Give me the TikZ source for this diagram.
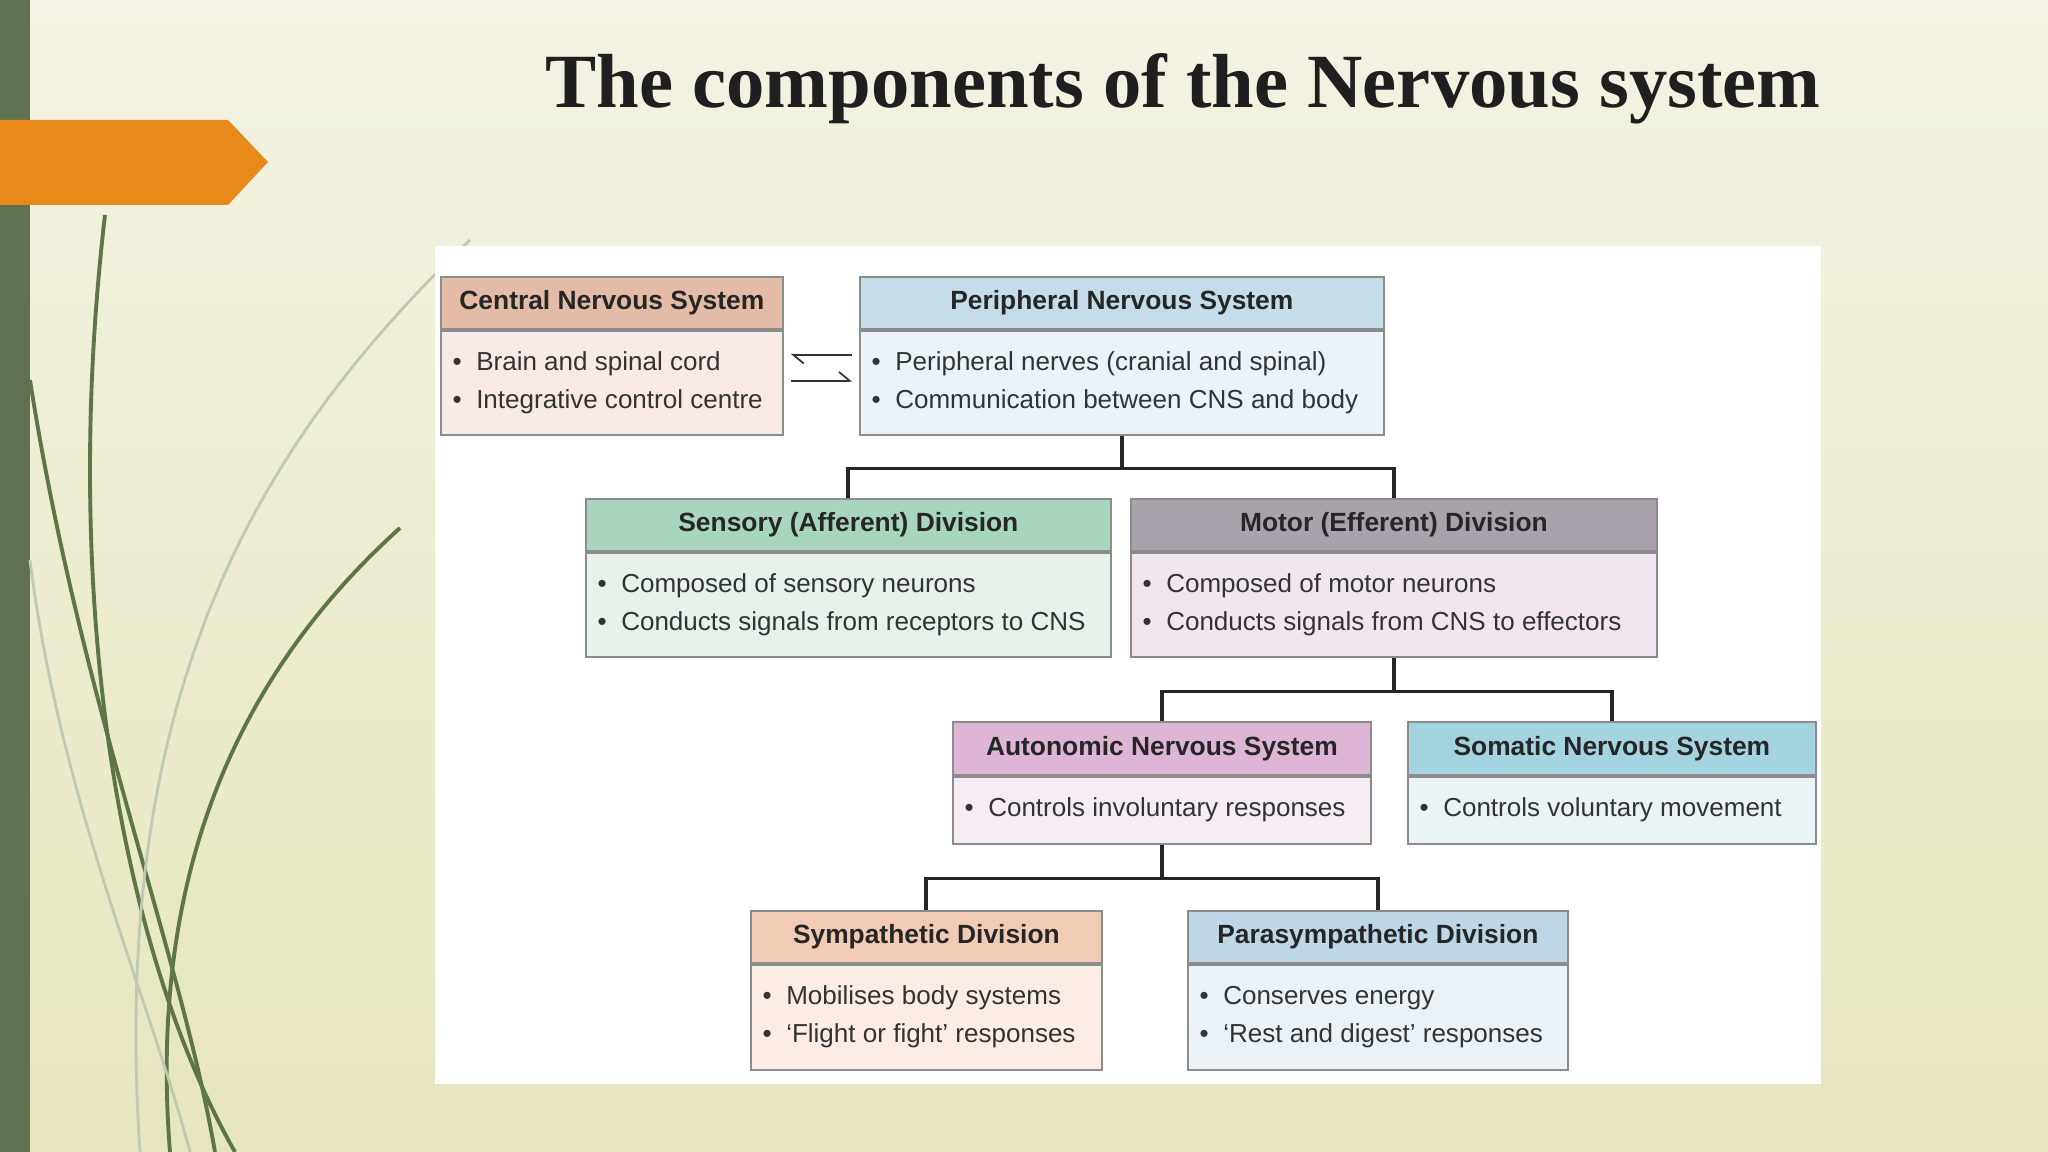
\documentclass[tikz,border=0pt]{standalone}
\usepackage{fontspec}
\setmainfont{Liberation Sans}
\newfontfamily\titlefont{Liberation Serif}
\usetikzlibrary{calc,arrows.meta}
\definecolor{bg}{HTML}{F1F0DE}
\definecolor{strip}{HTML}{5F7150}
\definecolor{orng}{HTML}{E88A1A}
\definecolor{leaf}{HTML}{5E7545}
\definecolor{cnsH}{HTML}{E4BBA6}\definecolor{cnsB}{HTML}{F8EAE4}
\definecolor{pnsH}{HTML}{C5DDE8}\definecolor{pnsB}{HTML}{EAF3F9}
\definecolor{senH}{HTML}{A8D5BE}\definecolor{senB}{HTML}{E6F2EA}
\definecolor{motH}{HTML}{A9A2AC}\definecolor{motB}{HTML}{F1E6F0}
\definecolor{autH}{HTML}{DDB6D6}\definecolor{autB}{HTML}{F6ECF4}
\definecolor{somH}{HTML}{A4D4E0}\definecolor{somB}{HTML}{EAF4F7}
\definecolor{symH}{HTML}{F2CBB6}\definecolor{symB}{HTML}{FBEDE6}
\definecolor{parH}{HTML}{BDD7E6}\definecolor{parB}{HTML}{EAF2F8}
\tikzset{
 hdr/.style={draw=black!45,line width=0.5pt,inner sep=0pt,font=\fontsize{7.5}{10}\selectfont\bfseries,text=black!85},
 bdy/.style={draw=black!45,line width=0.5pt,inner sep=0pt},
 btxt/.style={inner sep=0pt,font=\fontsize{7.4}{10.8}\selectfont,text=black!80,align=left,anchor=west},
 link/.style={line width=1.1pt,black!85},
 harp/.style={line width=0.5pt,black!80},
 deco/.style={leaf,line width=1.1pt}
}
\newcommand\cbox[9]{%
 \node[hdr,fill=#6,minimum width=#3*0.01cm,minimum height=#4*0.01cm,anchor=north west] (#1h) at #2 {#8};
 \node[bdy,fill=#7,minimum width=#3*0.01cm,minimum height=#5*0.01cm,anchor=north west] (#1) at (#1h.south west) {};
 \node[btxt] (#1t) at ($(#1.west)+(12,0)$) {#9};}
\begin{document}
\begin{tikzpicture}[x=0.01cm,y=-0.01cm]
\useasboundingbox (0,0) rectangle (2048,1152);
\shade[top color=bg!80!white,bottom color=bg!90!yellow!95!black] (0,0) rectangle (2048,1152);
\fill[strip] (0,0) rectangle (30,1152);
\fill[orng] (0,120) -- (228,120) -- (268,162) -- (228,205) -- (0,205) -- cycle;
% decorative curves
\draw[deco] (105,215) .. controls (60,600) and (120,950) .. (235,1152);
\draw[deco] (400,528) .. controls (220,690) and (150,900) .. (170,1152);
\draw[deco] (30,380) .. controls (80,700) and (180,950) .. (215,1152);
\draw[leaf!40,line width=0.8pt] (470,240) .. controls (250,450) and (110,700) .. (140,1152);
\draw[leaf!40,line width=0.8pt] (30,560) .. controls (60,800) and (150,1000) .. (190,1152);
\node[font=\titlefont\fontsize{21.8}{26}\selectfont\bfseries,text=black!88] (title) at (1183,89) {The components of the Nervous system};
\fill[white] (435,246) rectangle (1821,1084);
\cbox{cns}{(440,276)}{342}{52}{104}{cnsH}{cnsB}{Central Nervous System}{\textbullet\ \ Brain and spinal cord\\\textbullet\ \ Integrative control centre}
\cbox{pns}{(859,276)}{524}{52}{104}{pnsH}{pnsB}{Peripheral Nervous System}{\textbullet\ \ Peripheral nerves (cranial and spinal)\\\textbullet\ \ Communication between CNS and body}
\cbox{sen}{(585,498)}{525}{52}{104}{senH}{senB}{Sensory (Afferent) Division}{\textbullet\ \ Composed of sensory neurons\\\textbullet\ \ Conducts signals from receptors to CNS}
\cbox{mot}{(1130,498)}{526}{52}{104}{motH}{motB}{Motor (Efferent) Division}{\textbullet\ \ Composed of motor neurons\\\textbullet\ \ Conducts signals from CNS to effectors}
\cbox{aut}{(952,721)}{418}{53}{67}{autH}{autB}{Autonomic Nervous System}{\textbullet\ \ Controls involuntary responses}
\cbox{som}{(1407,721)}{408}{53}{67}{somH}{somB}{Somatic Nervous System}{\textbullet\ \ Controls voluntary movement}
\cbox{sym}{(750,910)}{351}{52}{105}{symH}{symB}{Sympathetic Division}{\textbullet\ \ Mobilises body systems\\\textbullet\ \ `Flight or fight' responses}
\cbox{par}{(1187,910)}{380}{52}{105}{parH}{parB}{Parasympathetic Division}{\textbullet\ \ Conserves energy\\\textbullet\ \ `Rest and digest' responses}
% connectors
\draw[link] (pns.south) -- ++(0,33);
\draw[link] (senh.north) |- ($(pns.south)+(0,33)$) -| (moth.north);
\draw[link] (mot.south) -- ++(0,34);
\draw[link] (auth.north) |- ($(mot.south)+(0,34)$) -| (somh.north);
\draw[link] (aut.south) -- ++(0,34);
\draw[link] (symh.north) |- ($(aut.south)+(0,34)$) -| (parh.north);
% harpoons
\coordinate (hA) at ($(cns.north east)+(7,25)$);
\draw[harp,-{Straight Barb[left,length=3pt,width=5pt]}] ($(pns.north west)+(-7,25)$) -- (hA);
\coordinate (hB) at ($(pns.north west)+(-7,51)$);
\draw[harp,-{Straight Barb[left,length=3pt,width=5pt]}] ($(cns.north east)+(7,51)$) -- (hB);
\end{tikzpicture}
\end{document}
